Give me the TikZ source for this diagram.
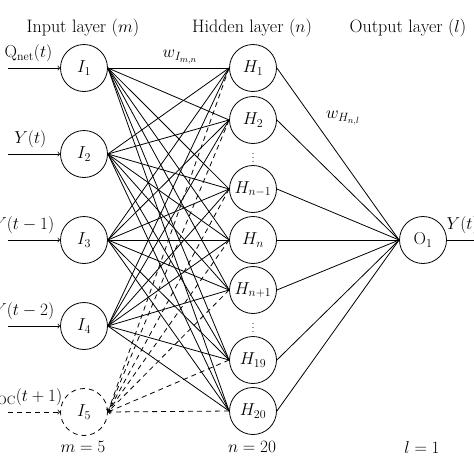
\documentclass[tikz,border=0pt]{standalone}
\usepackage{amsmath, amssymb}

\begin{document}
\begin{tikzpicture}[x=1pt, y=-1pt, line width=0.8pt,
        font=\fontsize{18}{21}\selectfont,
        neuron/.style={draw, circle, minimum size=47pt, inner sep=0pt},
        feedback/.style={dash pattern=on 5pt off 4pt},
        vdot/.style={inner sep=0pt, font=\fontsize{11}{13}\selectfont}]
        \useasboundingbox (0,0) rectangle (474,474);
        % layer titles
        \node (tin) at (83,28) {Input layer ($m$)};
        \node (thid) at (252,28) {Hidden layer ($n$)};
        \node (tout) at (408,28) {Output layer ($l$)};
        % input layer
        \node[neuron] (I1) at (84,68) {$I_1$};
        \node[neuron] (I2) at (84,154) {$I_2$};
        \node[neuron] (I3) at (84,240) {$I_3$};
        \node[neuron] (I4) at (84,326) {$I_4$};
        \node[neuron, feedback] (I5) at (84,412) {$I_5$};
        % hidden layer
        \node[neuron] (H1) at (253,68) {$H_1$};
        \node[neuron] (H2) at (253,120) {$H_2$};
        \node[vdot] (dotsa) at (253,155) {$\vdots$};
        \node[neuron] (Hnm) at (253,189) {$H_{n-1}$};
        \node[neuron] (Hn) at (253,240) {$H_n$};
        \node[neuron] (Hnp) at (253,290) {$H_{n+1}$};
        \node[vdot] (dotsb) at (253,325) {$\vdots$};
        \node[neuron] (H19) at (253,360) {$H_{19}$};
        \node[neuron] (H20) at (253,411) {$H_{20}$};
        % output layer
        \node[neuron] (O1) at (423,240) {$\mathrm{O}_1$};
        % inputs
        \coordinate (x1) at (8,68);
        \coordinate (x2) at (8,154);
        \coordinate (x3) at (8,240);
        \coordinate (x4) at (8,326);
        \coordinate (x5) at (8,412);
        \draw[->] (x1) -- (I1);
        \draw[->] (x2) -- (I2);
        \draw[->] (x3) -- (I3);
        \draw[->] (x4) -- (I4);
        \draw[->, feedback] (x5) -- (I5);
        \node[anchor=south east] (lq) at (56,66) {$\mathrm{Q}_{\mathrm{net}}(t)$};
        \node[anchor=south east] (ly) at (50,152) {$Y(t)$};
        \node[anchor=south east] (ly1) at (58,238) {$Y(t-1)$};
        \node[anchor=south east] (ly2) at (58,324) {$Y(t-2)$};
        \node[anchor=south east] (lqoc) at (66,410) {$\mathrm{Q}_{\mathrm{OC}}(t+1)$};
        % connections
        \foreach \i in {1,...,4}
            \foreach \h in {H1,H2,Hnm,Hn,Hnp,H19,H20}
                \draw (I\i.east) -- (\h.west);
        \foreach \h in {H1,H2,Hnm,Hn,Hnp,H19,H20} {
            \draw[->, feedback] (\h.west) -- (I5.east);
            \draw (\h.east) -- (O1.west);
        }
        % output
        \coordinate (yo) at (495,240);
        \draw[->] (O1.east) -- (yo);
        \node[anchor=south west] (lyo) at (443,238) {$Y(t)$};
        % weights and sizes
        \node (wi) at (180,57) {$w_{I_{m,n}}$};
        \node (wh) at (343,118) {$w_{H_{n,l}}$};
        \node (nm) at (83,447) {$m = 5$};
        \node (nn) at (252,447) {$n = 20$};
        \node (nl) at (422,447) {$l = 1$};
    \end{tikzpicture}
\end{document}
